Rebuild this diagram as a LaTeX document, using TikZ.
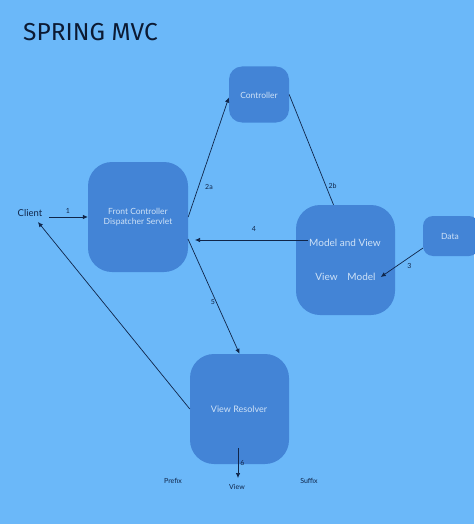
\documentclass[tikz,border=0pt]{standalone}
\usepackage{fontspec}
\setmainfont{Lato}
\newfontfamily\titlefont{Fira Sans}
\usetikzlibrary{arrows.meta}
\definecolor{bgblue}{HTML}{6BB8F9}
\definecolor{boxblue}{HTML}{4384D6}
\definecolor{boxtext}{HTML}{CFE2F7}
\definecolor{ink}{HTML}{10264A}
\definecolor{titleink}{HTML}{0C1A33}
\tikzset{
  box/.style={fill=boxblue, draw=none, rounded corners=#1, inner sep=0pt},
  box/.default=14pt,
  intext/.style={text=boxtext, font=\fontsize{8.5}{10}\selectfont, align=center, inner sep=1pt},
  lbl/.style={text=ink, font=\fontsize{7}{8}\selectfont, inner sep=0pt},
  conn/.style={draw=ink, line width=0.7pt},
  arr/.style={conn, -{Latex[length=5pt,width=4.5pt]}}
}
\begin{document}
\begin{tikzpicture}[x=1pt,y=-1pt]
\useasboundingbox (0,0) rectangle (474,524);
\fill[bgblue] (0,0) rectangle (474,524);
\node[text=titleink, anchor=west, font=\titlefont\fontsize{24.5}{28}\selectfont, inner sep=0pt] (title) at (23,32) {SPRING MVC};

% boxes
\node[box=13pt, minimum width=60pt, minimum height=56pt] (ctrl) at (259,94.5) {};
\node[box=24pt, minimum width=100pt, minimum height=110pt] (front) at (138,217) {};
\node[box=24pt, minimum width=99pt, minimum height=110pt] (mv) at (345.5,260) {};
\node[box=10pt, minimum width=56pt, minimum height=40pt] (data) at (451,236) {};
\node[box=24pt, minimum width=99pt, minimum height=110pt] (vr) at (239.5,409) {};

% texts inside boxes
\node[intext] (ctrlt) at (259,95) {Controller};
\node[intext, font=\fontsize{8.5}{10}\selectfont] (frontt) at (138,217) {Front Controller\\Dispatcher Servlet};
\node[intext, font=\fontsize{10}{12}\selectfont] (mvt) at (345,243) {Model and View};
\node[intext, font=\fontsize{10}{12}\selectfont] (viewt) at (326.5,277) {View};
\node[intext, font=\fontsize{10}{12}\selectfont] (modelt) at (361.5,277) {Model};
\node[intext] (datat) at (450,236) {Data};
\node[intext, font=\fontsize{9}{11}\selectfont] (vrt) at (239,409) {View Resolver};

% outside texts
\node[text=ink, font=\fontsize{9.5}{11}\selectfont] (client) at (30,213) {Client};
\node[lbl] (prefix) at (173,481) {Prefix};
\node[lbl] (viewout) at (237,487) {View};
\node[lbl] (suffix) at (309,481) {Suffix};

% helper coordinates
\coordinate (c1s) at (49,217);
\coordinate (f4) at (195,240);
\coordinate (f5) at (188,239);
\coordinate (d3) at (423,248);
\coordinate (v6s) at (238,448);
\coordinate (v6e) at (238,478);
\coordinate (cl) at (38,222);

% connectors
\draw[arr] (c1s) -- (front.west |- c1s);
\draw[arr] (front.east) -- ([yshift=-3pt]ctrl.west);
\draw[conn] (ctrl.east) -- ([xshift=-12pt]mv.north);
\draw[arr] (mvt.west |- f4) -- (f4);
\draw[arr] (d3) -- ([xshift=4pt]modelt.east);
\draw[arr] (f5) -- (vr.north);
\draw[arr] (vr.west) -- (cl);
\draw[arr] (v6s) -- (v6e);

% labels
\node[lbl] at (68,210.5) {1};
\node[lbl] at (209,187) {2a};
\node[lbl] at (332.5,186) {2b};
\node[lbl] at (254,229) {4};
\node[lbl] at (409.5,266) {3};
\node[lbl] at (213,302) {5};
\node[lbl] at (242.5,463) {6};
\end{tikzpicture}
\end{document}
